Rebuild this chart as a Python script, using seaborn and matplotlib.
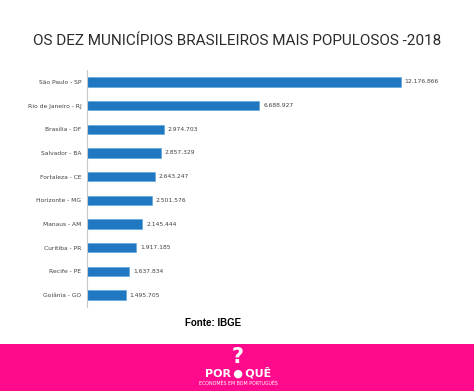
import pandas as pd
import seaborn as sns
import matplotlib.pyplot as plt
from matplotlib.patches import Rectangle

# data (IBGE 2018)
municipios = ['São Paulo - SP', 'Rio de Janeiro - RJ', 'Brasília - DF', 'Salvador - BA',
              'Fortaleza - CE', 'Horizonte - MG', 'Manaus - AM', 'Curitiba - PR',
              'Recife - PE', 'Goiânia - GO']
populacao = [12176866, 6688927, 2974703, 2857329, 2643247,
             2501576, 2145444, 1917185, 1637834, 1495705]
valor_txt = ['12.176.866', '6.688.927', '2.974.703', '2.857.329', '2.643.247',
             '2.501.576', '2.145.444', '1.917.185', '1.637.834', '1.495.705']

df = pd.DataFrame({'municipio': municipios, 'pop': populacao})

sns.set_style('white')
plt.rcParams['font.family'] = ['DejaVu Sans']

fig = plt.figure(figsize=(4.74, 3.91), dpi=100)
W, H = 474, 391

# axes placed in pixel coords of the reference
x0, x1 = 87, 441
y_top, y_bot = 70, 307
ax = fig.add_axes([x0 / W, 1 - y_bot / H, (x1 - x0) / W, (y_bot - y_top) / H])

sns.barplot(data=df, x='pop', y='municipio', color='#1f78c1', saturation=1,
            width=0.4, edgecolor='#5aa2db', linewidth=0.4, ax=ax)

# 12.176.866 ends at x=401 px
ax.set_xlim(0, populacao[0] * (x1 - x0) / (401 - x0))
ax.set_ylim(9.5, -0.5)

for i, (v, t) in enumerate(zip(populacao, valor_txt)):
    ax.text(v + populacao[0] * 0.012, i, t, va='center', ha='left',
            fontsize=4.3, color='#404040')

ax.set_xlabel('')
ax.set_ylabel('')
ax.set_xticks([])
ax.tick_params(axis='y', labelsize=4.3, labelcolor='#404040', length=0, pad=4)
ax.set_yticks([i + 0.5 for i in range(-1, 10)], minor=True)
ax.tick_params(axis='y', which='minor', length=3, color='#c8c8c8', width=0.6)
for s in ['top', 'right', 'bottom']:
    ax.spines[s].set_visible(False)
ax.spines['left'].set_color('#c8c8c8')
ax.spines['left'].set_linewidth(0.8)

# title, sized to span ~407 px like the reference
title = fig.text(0.5, 1 - 41 / H, 'OS DEZ MUNICÍPIOS BRASILEIROS MAIS POPULOSOS -2018',
                 ha='center', va='center', fontsize=12, color='#2b2b2b',
                 family='Roboto')
r = fig.canvas.get_renderer()
w = title.get_window_extent(renderer=r).width
title.set_fontsize(12 * 407 / w)

# source
fig.text(213 / W, 1 - 323 / H, 'Fonte: IBGE', ha='center', va='center',
         fontsize=7, fontweight='bold', color='black', family='Liberation Sans')

# pink footer band with logo text
fig.patches.append(Rectangle((0, 0), 1, 1 - 344 / H, transform=fig.transFigure,
                             facecolor='#ff0a8c', edgecolor='none', zorder=0))
fig.text(238 / W, 1 - 357 / H, '?', ha='center', va='center', fontsize=15,
         fontweight='bold', color='white')
fig.text(238 / W, 1 - 373 / H, 'POR\u2009\u25cf\u2009QUÊ', ha='center', va='center', fontsize=8,
         fontweight='bold', color='white')
fig.text(238 / W, 1 - 383 / H, 'ECONOMÊS EM BOM PORTUGUÊS', ha='center', va='center',
         fontsize=3.4, color='white')

plt.savefig('out.png', dpi=100)
